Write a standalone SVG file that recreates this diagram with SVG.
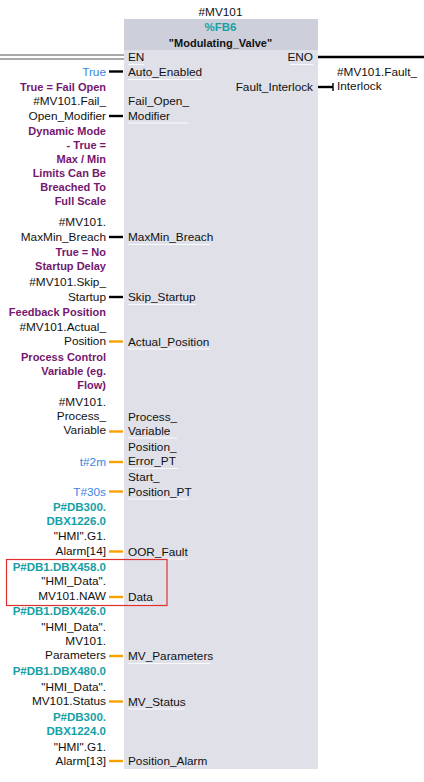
<svg xmlns="http://www.w3.org/2000/svg" width="424" height="782" viewBox="0 0 424 782">
<style>
text{font-family:"Liberation Sans",Arial,sans-serif;font-size:11.8px;fill:#111}
.l{text-anchor:end}
.c{text-anchor:middle}
.cm{font-weight:bold;font-size:11px;fill:#74176f}
.bl{fill:#3a86dc}
.tl{font-weight:bold;font-size:11.5px;fill:#16a0a6}
.wb{stroke:#000;stroke-width:2.4}
.wo{stroke:#f7a000;stroke-width:2.4}
.ul{stroke:#fafbff;stroke-width:1}
</style>
<rect width="424" height="782" fill="#fff"/>
<g id="block">
<rect x="124" y="19" width="194" height="750" fill="#dfe0e8"/>
<rect x="124" y="19" width="194" height="31" fill="#cdcfdb"/>
<text class="c" x="220.5" y="16">#MV101</text>
<text class="c tl" x="220.5" y="31">%FB6</text>
<text class="c" x="220.5" y="47" style="font-weight:bold;font-size:11px">"Modulating_Valve"</text>
</g>
<g id="pins">
<text x="128" y="61">EN</text><line class="ul" x1="128" y1="64.5" x2="144" y2="64.5"/>
<text class="l" x="313" y="61">ENO</text><line class="ul" x1="290" y1="64.5" x2="313" y2="64.5"/>
<text x="128" y="76">Auto_Enabled</text><line class="ul" x1="128" y1="79.5" x2="202" y2="79.5"/>
<text class="l" x="313" y="91">Fault_Interlock</text>
<text x="128" y="105">Fail_Open_</text><text x="128" y="119.5">Modifier</text><line class="ul" x1="128" y1="123" x2="188" y2="123"/>
<text x="128" y="241">MaxMin_Breach</text><line class="ul" x1="128" y1="244.5" x2="210" y2="244.5"/>
<text x="128" y="301">Skip_Startup</text><line class="ul" x1="128" y1="304.5" x2="196" y2="304.5"/>
<text x="128" y="345.5">Actual_Position</text><line class="ul" x1="128" y1="349" x2="210" y2="349"/>
<text x="128" y="420.5">Process_</text><text x="128" y="434.5">Variable</text><line class="ul" x1="128" y1="438" x2="177" y2="438"/>
<text x="128" y="451">Position_</text><text x="128" y="465">Error_PT</text><line class="ul" x1="128" y1="468.5" x2="178" y2="468.5"/>
<text x="128" y="481">Start_</text><text x="128" y="495.5">Position_PT</text><line class="ul" x1="128" y1="499" x2="188" y2="499"/>
<text x="128" y="555.5">OOR_Fault</text><line class="ul" x1="128" y1="559" x2="185" y2="559"/>
<text x="128" y="600.5">Data</text><line class="ul" x1="128" y1="604" x2="152" y2="604"/>
<text x="128" y="660">MV_Parameters</text><line class="ul" x1="128" y1="663.5" x2="210" y2="663.5"/>
<text x="128" y="705.5">MV_Status</text><line class="ul" x1="128" y1="709" x2="185" y2="709"/>
<text x="128" y="765">Position_Alarm</text>
</g>
<g id="operands">
<text class="l bl" x="106" y="76">True</text>
<text class="l cm" x="106" y="91">True = Fail Open</text>
<text class="l" x="106" y="105">#MV101.Fail_</text>
<text class="l" x="106" y="119.5">Open_Modifier</text>
<text class="l cm" x="106" y="135">Dynamic Mode</text>
<text class="l cm" x="106" y="149">- True =</text>
<text class="l cm" x="106" y="163">Max / Min</text>
<text class="l cm" x="106" y="177">Limits Can Be</text>
<text class="l cm" x="106" y="191">Breached To</text>
<text class="l cm" x="106" y="205">Full Scale</text>
<text class="l" x="106" y="226">#MV101.</text>
<text class="l" x="106" y="241">MaxMin_Breach</text>
<text class="l cm" x="106" y="255.5">True = No</text>
<text class="l cm" x="106" y="269.5">Startup Delay</text>
<text class="l" x="106" y="286">#MV101.Skip_</text>
<text class="l" x="106" y="300.5">Startup</text>
<text class="l cm" x="106" y="315.5">Feedback Position</text>
<text class="l" x="106" y="331">#MV101.Actual_</text>
<text class="l" x="106" y="345">Position</text>
<text class="l cm" x="106" y="360.5">Process Control</text>
<text class="l cm" x="106" y="374.5">Variable (eg.</text>
<text class="l cm" x="106" y="388.5">Flow)</text>
<text class="l" x="106" y="405.5">#MV101.</text>
<text class="l" x="106" y="420">Process_</text>
<text class="l" x="106" y="434">Variable</text>
<text class="l bl" x="106" y="465.5">t#2m</text>
<text class="l bl" x="106" y="495.5">T#30s</text>
<text class="l tl" x="106" y="510.5">P#DB300.</text>
<text class="l tl" x="106" y="524.5">DBX1226.0</text>
<text class="l" x="106" y="540">"HMI".G1.</text>
<text class="l" x="106" y="555">Alarm[14]</text>
<text class="l tl" x="106" y="570.5">P#DB1.DBX458.0</text>
<text class="l" x="106" y="585">"HMI_Data".</text>
<text class="l" x="106" y="600">MV101.NAW</text>
<text class="l tl" x="106" y="614.5">P#DB1.DBX426.0</text>
<text class="l" x="106" y="630.5">"HMI_Data".</text>
<text class="l" x="106" y="644.5">MV101.</text>
<text class="l" x="106" y="659">Parameters</text>
<text class="l tl" x="106" y="675">P#DB1.DBX480.0</text>
<text class="l" x="106" y="690.5">"HMI_Data".</text>
<text class="l" x="106" y="705">MV101.Status</text>
<text class="l tl" x="106" y="720.5">P#DB300.</text>
<text class="l tl" x="106" y="735">DBX1224.0</text>
<text class="l" x="106" y="750.5">"HMI".G1.</text>
<text class="l" x="106" y="764.5">Alarm[13]</text>
<text x="337" y="76">#MV101.Fault_</text>
<text x="337" y="90">Interlock</text>
</g>
<g id="connectors">
<line x1="0" y1="55" x2="124" y2="55" stroke="#8c8c8c" stroke-width="1.4"/>
<line x1="0" y1="59" x2="124" y2="59" stroke="#8c8c8c" stroke-width="1.4"/>
<line class="wb" x1="318" y1="57" x2="424" y2="57"/>
<line class="wb" x1="318" y1="87" x2="333" y2="87"/>
<line x1="333" y1="83" x2="333" y2="91" stroke="#000" stroke-width="1.4"/>
<line class="wb" x1="109" y1="71.5" x2="123" y2="71.5"/>
<line class="wb" x1="109" y1="116" x2="123" y2="116"/>
<line class="wb" x1="109" y1="237" x2="123" y2="237"/>
<line class="wb" x1="109" y1="297" x2="123" y2="297"/>
<line class="wo" x1="109" y1="341.5" x2="123" y2="341.5"/>
<line class="wo" x1="109" y1="431.5" x2="123" y2="431.5"/>
<line class="wo" x1="109" y1="462" x2="123" y2="462"/>
<line class="wo" x1="109" y1="491.5" x2="123" y2="491.5"/>
<line class="wo" x1="109" y1="551.5" x2="123" y2="551.5"/>
<line class="wo" x1="109" y1="597" x2="123" y2="597"/>
<line class="wo" x1="109" y1="656" x2="123" y2="656"/>
<line class="wo" x1="109" y1="701.5" x2="123" y2="701.5"/>
<line class="wo" x1="109" y1="761" x2="123" y2="761"/>
</g>
<rect id="highlight" x="6.5" y="559.5" width="160.5" height="46" fill="none" stroke="#e03030" stroke-width="1.2"/>
</svg>
